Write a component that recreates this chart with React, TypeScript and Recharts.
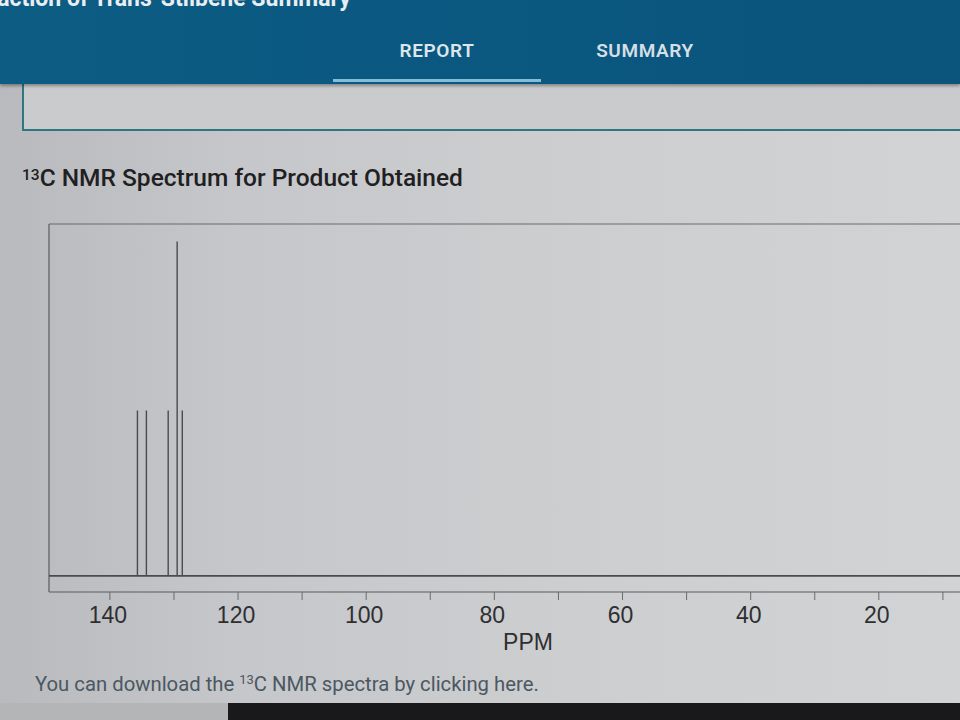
import React from "react";
import {
  LineChart,
  Line,
  XAxis,
  YAxis,
  ReferenceLine,
} from "recharts";

// Peak positions (ppm) and relative intensities
const peakShifts = [135.7, 134.3, 130.9, 129.5, 128.7];
const peakHeights = [0.47, 0.47, 0.47, 0.95, 0.47];

// Axis ticks: minor every 10 ppm, labelled every 20
const axisTicks = [10, 20, 30, 40, 50, 60, 70, 80, 90, 100, 110, 120, 130, 140];
const ppmRange = [0, 149.5];
const intensityRange = [-0.046, 1];

// stick spectrum: baseline with a vertical spike at each shift
const buildSpectrum = () => {
  const pts: { ppm: number; i: number }[] = [{ ppm: ppmRange[1], i: 0 }];
  peakShifts.forEach((p, k) => {
    pts.push({ ppm: p, i: 0 });
    pts.push({ ppm: p, i: peakHeights[k] });
    pts.push({ ppm: p, i: 0 });
  });
  pts.push({ ppm: ppmRange[0], i: 0 });
  return pts;
};

const spectrum = buildSpectrum();

const PpmTick = (props: any) => {
  const { x, y, payload } = props;
  const v = payload.value;
  return (
    <g>
      {v % 20 === 0 && (
        <text
          x={x - 2}
          y={y + 21}
          textAnchor="middle"
          fill="#2e2f31"
          fontSize={23}
          fontFamily="'Liberation Sans', Arial, sans-serif"
        >
          {v}
        </text>
      )}
    </g>
  );
};

const page: React.CSSProperties = {
  position: "fixed",
  left: 0,
  top: 0,
  width: 960,
  height: 720,
  overflow: "hidden",
  background:
    "linear-gradient(90deg, #b9babd 0%, #c6c7ca 25%, #cdced0 60%, #d2d3d5 100%)",
  fontFamily: "Roboto, 'Noto Sans', sans-serif",
};

const tabStyle: React.CSSProperties = {
  position: "absolute",
  width: 208,
  top: 39,
  textAlign: "center",
  fontSize: 19,
  fontWeight: 600,
  letterSpacing: 0.6,
};

export default function App() {
  return (
    <div style={page}>
      {/* top navigation bar */}
      <div
        style={{
          position: "absolute",
          left: 0,
          top: 0,
          width: 960,
          height: 84,
          background: "linear-gradient(90deg, #0c5c84 0%, #0a5780 60%, #0b547b 100%)",
          boxShadow: "0 2px 3px rgba(0,0,0,0.35)",
          zIndex: 2,
        }}
      >
        <div
          style={{
            position: "absolute",
            left: -30,
            top: -15,
            color: "#e8eef2",
            fontSize: 23,
            fontWeight: 700,
            whiteSpace: "nowrap",
          }}
        >
          Reaction of Trans-Stilbene Summary
        </div>
        <div style={{ ...tabStyle, left: 333, color: "#dfe6ea" }}>REPORT</div>
        <div style={{ ...tabStyle, left: 541, color: "#d6dfe5" }}>SUMMARY</div>
        <div
          style={{
            position: "absolute",
            left: 333,
            width: 208,
            top: 79,
            height: 3,
            background: "#86bcd8",
          }}
        />
      </div>

      {/* bordered panel under the bar */}
      <div
        style={{
          position: "absolute",
          left: 22,
          top: 80,
          width: 960,
          height: 49,
          borderLeft: "2px solid #2f7780",
          borderBottom: "2px solid #2f7780",
          background: "#cacbcd",
        }}
      />

      <div
        style={{
          position: "absolute",
          left: 22,
          top: 163,
          fontSize: 24.5,
          fontWeight: 500,
          color: "#1f2022",
          whiteSpace: "nowrap",
        }}
      >
        <sup style={{ fontSize: 15.5, verticalAlign: 6 }}>13</sup>C NMR Spectrum for Product Obtained
      </div>

      {/* spectrum plot */}
      <div style={{ position: "absolute", left: 0, top: 0 }}>
        <LineChart
          width={1030}
          height={660}
          data={spectrum}
          margin={{ top: 224, right: 23, bottom: 0, left: 49 }}
        >
          <XAxis
            dataKey="ppm"
            type="number"
            domain={ppmRange}
            reversed
            ticks={axisTicks}
            interval={0}
            tick={<PpmTick />}
            tickSize={8}
            tickLine={{ stroke: "#6a6b6d" }}
            axisLine={{ stroke: "#5a5b5d", strokeWidth: 1.2 }}
            height={68}
            label={{
              value: "PPM",
              position: "insideBottom",
              offset: 10,
              fill: "#2e2f31",
              fontSize: 23,
              fontFamily: "'Liberation Sans', Arial, sans-serif",
            }}
          />
          <YAxis type="number" domain={intensityRange} hide />
          {/* plot frame: top and left edges, then the zero baseline */}
          <ReferenceLine y={intensityRange[1]} stroke="#6a6b6d" strokeWidth={1.2} />
          <ReferenceLine x={ppmRange[1]} stroke="#5a5b5d" strokeWidth={1.2} />
          <ReferenceLine y={0} stroke="#505153" strokeWidth={1.2} />
          <Line
            type="linear"
            dataKey="i"
            stroke="#4a4b4d"
            strokeWidth={1.4}
            dot={false}
            isAnimationActive={false}
          />
        </LineChart>
      </div>

      <div
        style={{
          position: "absolute",
          left: 35,
          top: 672,
          fontSize: 20.3,
          color: "#4b5862",
          whiteSpace: "nowrap",
        }}
      >
        You can download the <sup style={{ fontSize: 13, verticalAlign: 7 }}>13</sup>C NMR spectra by clicking here.
      </div>

      {/* task bar along the bottom */}
      <div
        style={{
          position: "absolute",
          left: 0,
          top: 703,
          width: 228,
          height: 17,
          background: "#b4b5b7",
        }}
      />
      <div
        style={{
          position: "absolute",
          left: 228,
          top: 703,
          width: 732,
          height: 17,
          background: "#19191b",
        }}
      />
    </div>
  );
}
